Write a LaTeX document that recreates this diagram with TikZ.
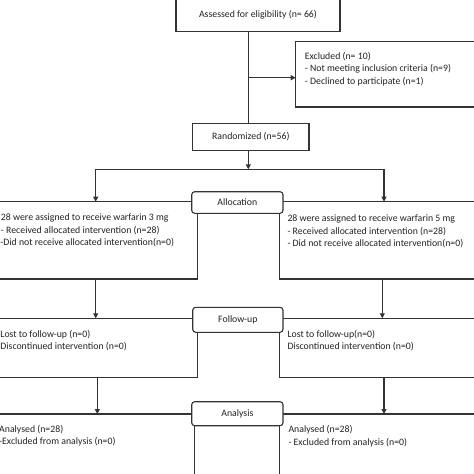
\documentclass[tikz,border=0pt]{standalone}
\usepackage{fontspec}
\setmainfont{Carlito}
\usetikzlibrary{arrows.meta}
\definecolor{ln}{HTML}{333333}
\definecolor{tx}{HTML}{222222}
\begin{document}
\begin{tikzpicture}[x=1pt,y=-1pt,
  frame/.style={draw=ln, line width=1.1pt, inner sep=0pt, outer sep=0pt, anchor=north west, text=tx, font=\fontsize{9.8}{12}\selectfont},
  rbox/.style={draw=ln, line width=1.1pt, fill=white, rounded corners=3pt, inner sep=0pt, outer sep=0pt, anchor=north west, text=tx, font=\fontsize{9.8}{12}\selectfont},
  txt/.style={anchor=base west, inner sep=0pt, text=tx, font=\fontsize{9.8}{12}\selectfont},
  con/.style={draw=ln, line width=1.1pt},
  arr/.style={draw=ln, line width=1.1pt, -{Triangle[length=5pt,width=5pt]}}]
\useasboundingbox (0,0) rectangle (474,474);
\clip (0,0) rectangle (474,474);

% boxes
\node[frame, minimum width=164pt, minimum height=33.7pt] (assess) at (176,-2) {Assessed for eligibility (n= 66)};
\node[frame, minimum width=184.3pt, minimum height=65.7pt] (excl) at (295.7,41.3) {};
\node[frame, minimum width=116.3pt, minimum height=27.4pt] (rand) at (192.7,123.3) {Randomized (n=56)};

\node[frame, minimum width=202.3pt, minimum height=77.3pt] (AL) at (-5,201.7) {};
\node[frame, minimum width=200.7pt, minimum height=77.3pt] (AR) at (279.3,201.7) {};
\node[frame, minimum width=202.3pt, minimum height=59pt] (FL) at (-5,318.3) {};
\node[frame, minimum width=200.7pt, minimum height=59pt] (FR) at (279.3,318.3) {};
\node[frame, minimum width=199.3pt, minimum height=70pt] (NL) at (-5,414) {};
\node[frame, minimum width=200.7pt, minimum height=70pt] (NR) at (279.3,414) {};

\node[rbox, minimum width=91.3pt, minimum height=21.6pt] (alloc) at (191.7,191.7) {Allocation};
\node[rbox, minimum width=90.3pt, minimum height=25pt] (fu) at (192.7,307.3) {Follow-up};
\node[rbox, minimum width=91.3pt, minimum height=24pt] (an) at (191.7,401.7) {Analysis};

% texts
\node[txt] (e1) at (304.7,59) {Excluded (n= 10)};
\node[txt] (e2) at (304.7,71.7) {- Not meeting inclusion criteria (n=9)};
\node[txt] (e3) at (304.7,84) {- Declined to participate (n=1)};

\node[txt] (al1) at (0.8,220.3) {28 were assigned to receive warfarin 3 mg};
\node[txt] (al2) at (0.8,233.5) {- Received allocated intervention (n=28)};
\node[txt] (al3) at (0.2,245.7) {-Did not receive allocated intervention(n=0)};
\node[txt] (ar1) at (287.3,221.3) {28 were assigned to receive warfarin 5 mg};
\node[txt] (ar2) at (287.3,234) {- Received allocated intervention (n=28)};
\node[txt] (ar3) at (287.3,246.3) {- Did not receive allocated intervention(n=0)};

\node[txt] (fl1) at (0.2,337) {Lost to follow-up (n=0)};
\node[txt] (fl2) at (0.2,349) {Discontinued intervention (n=0)};
\node[txt] (fr1) at (287.3,337) {Lost to follow-up(n=0)};
\node[txt] (fr2) at (287.3,349) {Discontinued intervention (n=0)};

\node[txt] (nl1) at (-1,432.3) {Analysed (n=28)};
\node[txt] (nl2) at (-1,444.7) {-Excluded from analysis (n=0)};
\node[txt] (nr1) at (288.3,432.3) {Analysed (n=28)};
\node[txt] (nr2) at (288.3,445.3) {- Excluded from analysis (n=0)};

% connectors
\coordinate (vx) at (248.3,0);
\coordinate (ej) at (248.3,77.7);
\coordinate (sp) at (248.3,169.3);
\coordinate (spl) at (95.7,169.3);
\coordinate (spr) at (384,169.3);
\coordinate (xl2) at (95.7,0);
\coordinate (xr2) at (382.3,0);
\coordinate (xl3) at (97.3,0);
\coordinate (xr3) at (384,0);

\draw[con] (assess.south -| vx) -- (rand.north -| vx);
\draw[arr] (ej) -- (excl.west |- ej);
\draw[con] (spl) -- (spr);
\draw[arr] (rand.south -| vx) -- (sp);
\draw[arr] (spl) -- (AL.north -| spl);
\draw[arr] (spr) -- (AR.north -| spr);
\draw[arr] (AL.south -| xl2) -- (FL.north -| xl2);
\draw[arr] (AR.south -| xr2) -- (FR.north -| xr2);
\draw[arr] (FL.south -| xl3) -- (NL.north -| xl3);
\draw[arr] (FR.south -| xr3) -- (NR.north -| xr3);
\end{tikzpicture}
\end{document}
